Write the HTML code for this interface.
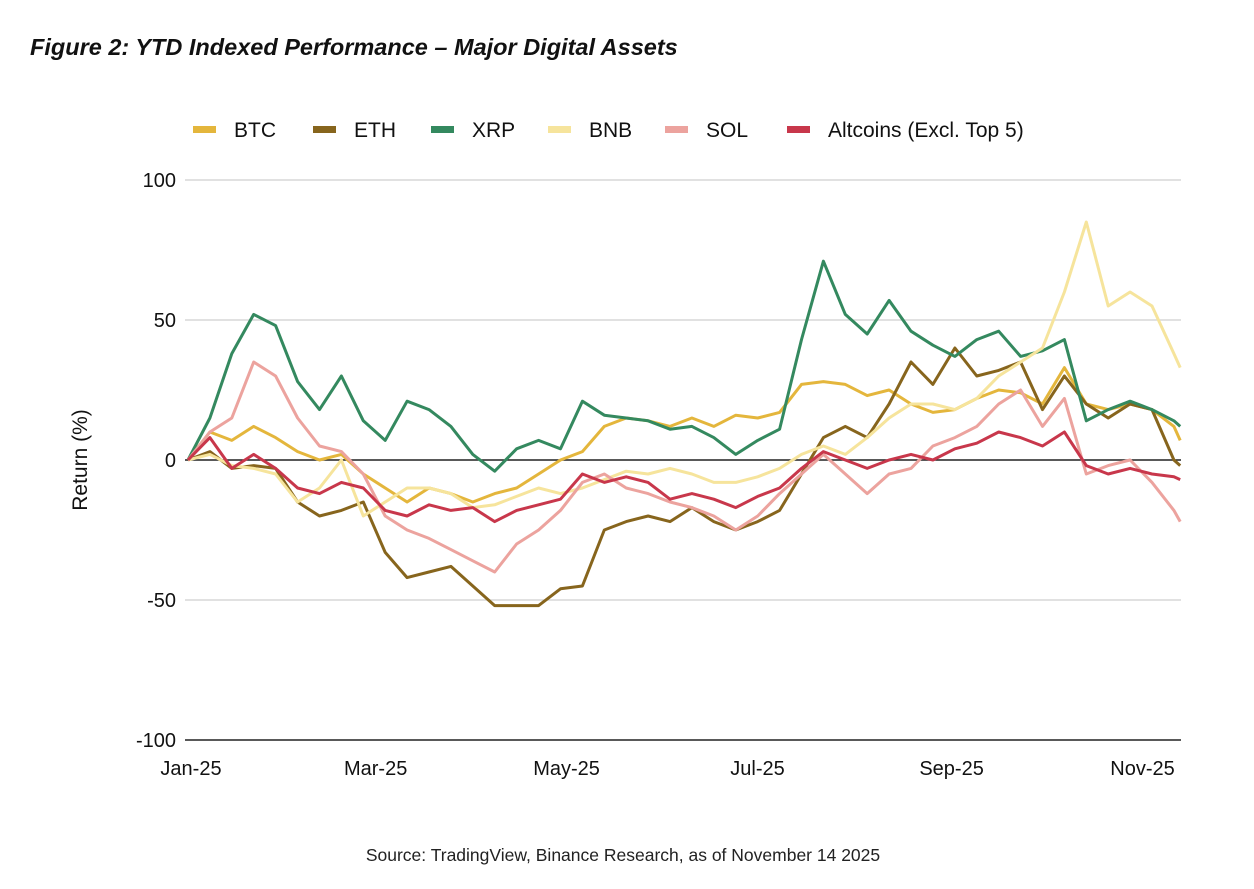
<!DOCTYPE html>
<html><head><meta charset="utf-8">
<style>
body{margin:0;background:#fff;width:1254px;height:884px;overflow:hidden;font-family:"Liberation Sans",sans-serif;}
svg text{font-family:"Liberation Sans",sans-serif;}
</style></head>
<body>
<svg id="chart" width="1254" height="884">
<text x="30" y="55" font-size="23.5" font-weight="bold" font-style="italic" fill="#111">Figure 2: YTD Indexed Performance – Major Digital Assets</text>
<text x="623" y="861" font-size="17.5" fill="#222" text-anchor="middle">Source: TradingView, Binance Research, as of November 14 2025</text>
<text transform="translate(87,460) rotate(-90)" font-size="21" text-anchor="middle" fill="#111">Return (%)</text>
<g id="grid"></g><g id="series"></g><g id="legend"></g>
</svg>
<script>
const days=[0,7,14,21,28,35,42,49,56,63,70,77,84,91,98,105,112,119,126,133,140,147,154,161,168,175,182,189,196,203,210,217,224,231,238,245,252,259,266,273,280,287,294,301,308,315,317];
const yTicks=[100,50,0,-50,-100];
const xTickLabels=["Jan-25","Mar-25","May-25","Jul-25","Sep-25","Nov-25"];
const xTickDays=[0,59,120,181,243,304];
const seriesNames=["BTC","ETH","XRP","BNB","SOL","Altcoins (Excl. Top 5)"];
const btc=[0,10,7,12,8,3,0,2,-5,-10,-15,-10,-12,-15,-12,-10,-5,0,3,12,15,14,12,15,12,16,15,17,27,28,27,23,25,20,17,18,22,25,24,20,33,20,18,20,18,12,7];
const eth=[0,3,-3,-2,-3,-15,-20,-18,-15,-33,-42,-40,-38,-45,-52,-52,-52,-46,-45,-25,-22,-20,-22,-17,-22,-25,-22,-18,-5,8,12,8,20,35,27,40,30,32,35,18,30,20,15,20,18,0,-2];
const xrp=[0,15,38,52,48,28,18,30,14,7,21,18,12,2,-4,4,7,4,21,16,15,14,11,12,8,2,7,11,43,71,52,45,57,46,41,37,43,46,37,39,43,14,18,21,18,14,12];
const bnb=[0,2,-2,-3,-5,-15,-10,0,-20,-15,-10,-10,-12,-17,-16,-13,-10,-12,-10,-7,-4,-5,-3,-5,-8,-8,-6,-3,2,5,2,8,15,20,20,18,22,30,35,40,60,85,55,60,55,38,33];
const sol=[0,10,15,35,30,15,5,3,-5,-20,-25,-28,-32,-36,-40,-30,-25,-18,-8,-5,-10,-12,-15,-17,-20,-25,-20,-12,-5,2,-5,-12,-5,-3,5,8,12,20,25,12,22,-5,-2,0,-8,-18,-22];
const alt=[0,8,-3,2,-3,-10,-12,-8,-10,-18,-20,-16,-18,-17,-22,-18,-16,-14,-5,-8,-6,-8,-14,-12,-14,-17,-13,-10,-3,3,0,-3,0,2,0,4,6,10,8,5,10,-2,-5,-3,-5,-6,-7];
const colors=["#E4B63C","#87651D","#34895F","#F6E49C","#ECA39E","#C8374B"];
const NS="http://www.w3.org/2000/svg";
const X=d=>188+d*3.13;
const Y=v=>460-v*2.8;
function mk(t,a,p){const e=document.createElementNS(NS,t);for(const k in a)e.setAttribute(k,a[k]);p.appendChild(e);return e;}
const grid=document.getElementById('grid');
yTicks.forEach(v=>{
  const l=mk('line',{x1:185,x2:1181,y1:Y(v),y2:Y(v),stroke:(v===0||v===-100)?'#222':'#cfcfcf','stroke-width':(v===0||v===-100)?1.6:1.3},grid);
  
  
  const t=mk('text',{x:176,y:Y(v)+7,'font-size':20,'text-anchor':'end',fill:'#111'},grid);
  t.textContent=v;
  
  
});
xTickLabels.forEach((s,i)=>{
  const t=mk('text',{x:X(xTickDays[i])+3,y:775,'font-size':20,'text-anchor':'middle',fill:'#111'},grid);
  t.textContent=s;
  
  
});
const data=[btc,eth,xrp,bnb,sol,alt];
const sg=document.getElementById('series');
[0,1,2,3,4,5].forEach(i=>{
  const vals=data[i];
  const pts=days.map((d,j)=>X(d).toFixed(1)+','+Y(vals[j]).toFixed(1)).join(' ');
  const p=mk('polyline',{points:pts,fill:'none',stroke:colors[i],'stroke-width':3,'stroke-linejoin':'round'},sg);
  
  
});
const lg=document.getElementById('legend');
const lx=[193,313,431,548,665,787];
seriesNames.forEach((n,i)=>{
  const r=mk('rect',{x:lx[i],y:126,width:23,height:7,fill:colors[i]},lg);
  
  
  const t=mk('text',{x:lx[i]+41,y:137,'font-size':21,fill:'#111'},lg);
  t.textContent=n;
  
  
});
</script>
</body></html>
